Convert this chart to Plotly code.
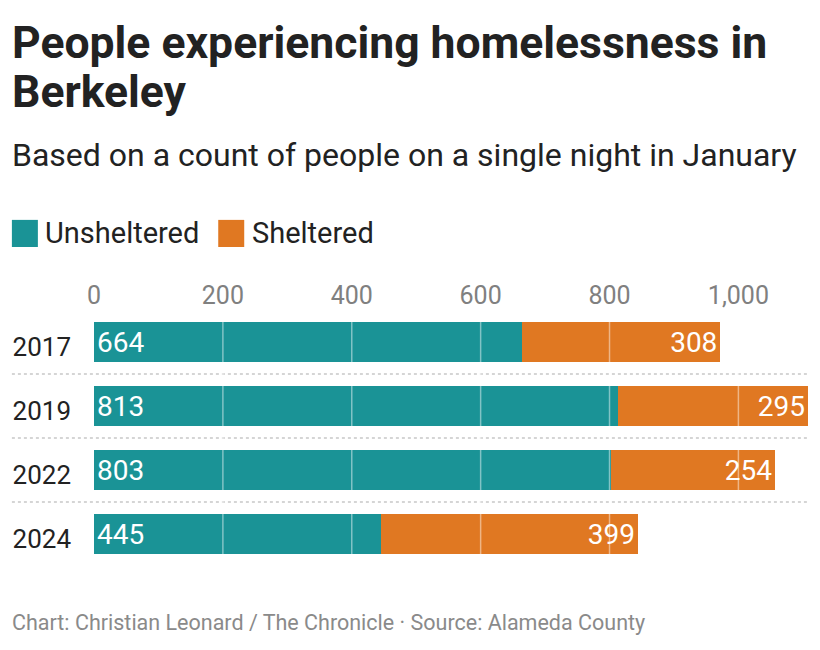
import plotly.graph_objects as go

years = ["2017", "2019", "2022", "2024"]
unsheltered = [664, 813, 803, 445]
sheltered = [308, 295, 254, 399]
tick_vals = [0, 200, 400, 600, 800, 1000]
tick_text = ["0", "200", "400", "600", "800", "1,000"]
series_names = ["Unsheltered", "Sheltered"]

TEAL = "#1a9396"
ORANGE = "#e07822"
FONT = "Roboto"

totals = [u + s for u, s in zip(unsheltered, sheltered)]
xmax = max(totals)

fig = go.Figure()
fig.add_trace(go.Bar(
    y=years, x=unsheltered, orientation="h", name=series_names[0],
    marker=dict(color=TEAL, line=dict(width=0)),
    text=[str(v) for v in unsheltered], textposition="inside",
    insidetextanchor="start", constraintext="none",
    textfont=dict(color="white", size=28, family=FONT),
    hoverinfo="skip", showlegend=False,
))
fig.add_trace(go.Bar(
    y=years, x=sheltered, orientation="h", name=series_names[1],
    marker=dict(color=ORANGE, line=dict(width=0)),
    text=[str(v) for v in sheltered], textposition="inside",
    insidetextanchor="end", constraintext="none",
    textfont=dict(color="white", size=28, family=FONT),
    hoverinfo="skip", showlegend=False,
))

shapes = []
for v in tick_vals[1:]:
    shapes.append(dict(type="line", xref="x", yref="paper", x0=v, x1=v, y0=0, y1=1,
                       line=dict(color="rgba(255,255,255,0.45)", width=1.5), layer="above"))
for i in range(len(years) - 1):
    shapes.append(dict(type="line", xref="paper", yref="y", x0=-0.115, x1=1,
                       y0=i + 0.5, y1=i + 0.5,
                       line=dict(color="#c8c8c8", width=1.5, dash="dot"), layer="below"))

LX = -0.118
leg_x = [-0.115, 0.174]
colors = [TEAL, ORANGE]
annotations = []
for lx, c, nm in zip(leg_x, colors, series_names):
    shapes.append(dict(type="rect", xref="paper", yref="paper",
                       x0=lx, x1=lx + 0.0364, y0=1.246, y1=1.352,
                       fillcolor=c, line=dict(width=0)))
    annotations.append(dict(text=nm, xref="paper", yref="paper", x=lx + 0.044, y=1.301,
                            xanchor="left", yanchor="middle", showarrow=False,
                            font=dict(size=29, color="#222", family=FONT)))

annotations.append(dict(text="<b>People experiencing homelessness in</b>",
                        xref="paper", yref="paper", x=LX, y=2.043,
                        xanchor="left", yanchor="middle", showarrow=False,
                        font=dict(size=44.5, color="#222", family=FONT)))
annotations.append(dict(text="<b>Berkeley</b>",
                        xref="paper", yref="paper", x=LX, y=1.852,
                        xanchor="left", yanchor="middle", showarrow=False,
                        font=dict(size=44.5, color="#222", family=FONT)))
annotations.append(dict(text="Based on a count of people on a single night in January",
                        xref="paper", yref="paper", x=LX, y=1.605,
                        xanchor="left", yanchor="middle", showarrow=False,
                        font=dict(size=32, color="#222", family=FONT)))
annotations.append(dict(text="Chart: Christian Leonard / The Chronicle · Source: Alameda County",
                        xref="paper", yref="paper", x=LX, y=-0.219,
                        xanchor="left", yanchor="middle", showarrow=False,
                        font=dict(size=21.5, color="#8a8a8a", family=FONT)))

fig.update_layout(
    width=820, height=650,
    margin=dict(l=94, r=12, t=310, b=84),
    paper_bgcolor="white", plot_bgcolor="white",
    barmode="stack", bargap=0.36,
    xaxis=dict(side="top", range=[0, xmax], tickvals=tick_vals, ticktext=tick_text,
               showgrid=False, zeroline=False, showline=False, ticks="",
               tickfont=dict(size=25, color="#808080", family=FONT), fixedrange=True),
    yaxis=dict(autorange="reversed", showgrid=False, zeroline=False, showline=False,
               ticks="", ticklabelstandoff=22, ticklabelshift=-5,
               tickfont=dict(size=26, color="#222", family=FONT), fixedrange=True),
    shapes=shapes, annotations=annotations, showlegend=False,
)

fig.write_html("out.html")
